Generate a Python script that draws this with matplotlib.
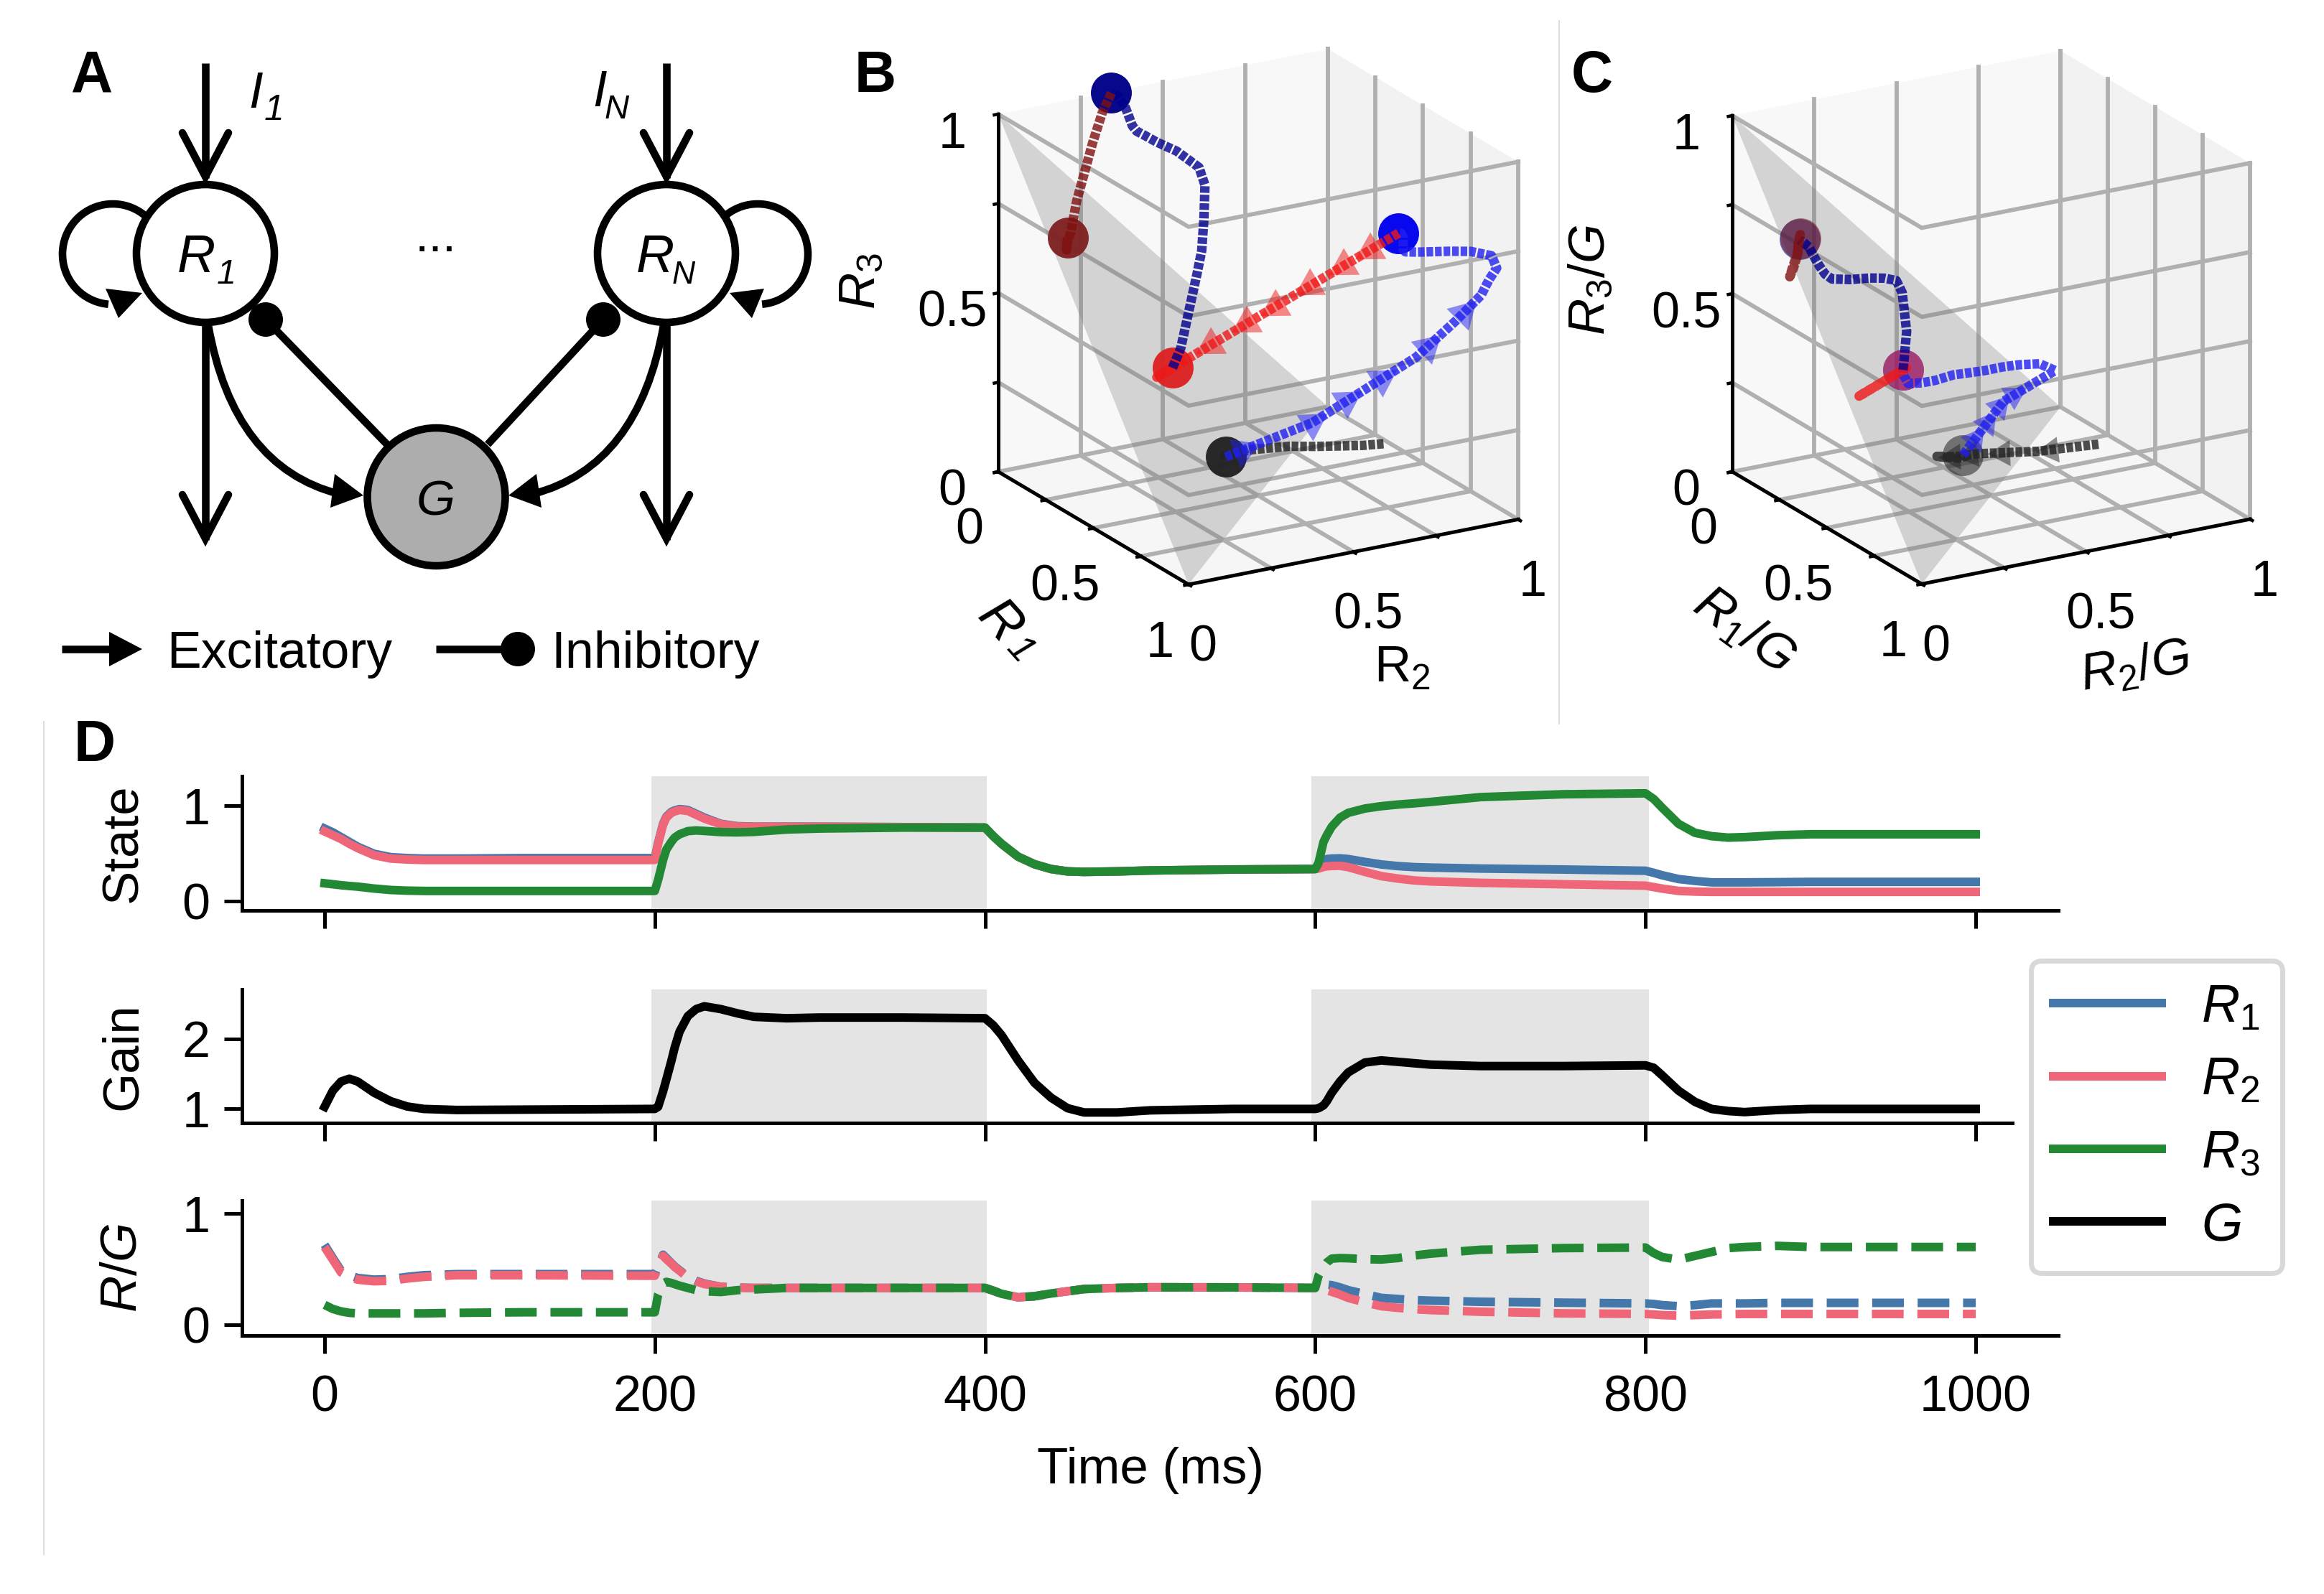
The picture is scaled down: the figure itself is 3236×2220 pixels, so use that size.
import numpy as np
import matplotlib
matplotlib.use("Agg")
import matplotlib.pyplot as plt
from matplotlib.patches import Circle, Polygon, PathPatch
from matplotlib.path import Path
from mpl_toolkits.mplot3d import proj3d
from mpl_toolkits.mplot3d.art3d import Poly3DCollection

plt.rcParams.update({
    "font.family": "Liberation Sans", "mathtext.fontset": "custom",
    "mathtext.rm": "Liberation Sans", "mathtext.it": "Liberation Sans:italic",
    "mathtext.bf": "Liberation Sans:bold", "mathtext.default": "it",
    "axes.linewidth": 3.6, "font.size": 50.5,
})

W, H = 3236, 2220

# ---------------- data ----------------
t = np.array([0,5,10,15,20,30,40,50,60,80,120,200,
              202,205,207,210,212,215,220,225,230,240,250,260,280,300,350,400,
              405,410,420,430,440,450,460,480,500,550,600,
              602,605,607,610,615,620,630,640,650,660,670,700,750,800,
              805,810,820,830,840,850,860,880,900,1000], float)
R1 = np.array([.76,.72,.67,.62,.57,.495,.46,.45,.445,.445,.45,.45,
               .61,.81,.885,.935,.95,.965,.955,.915,.875,.81,.785,.78,.78,.78,.775,.77,
               .68,.60,.465,.385,.335,.31,.305,.31,.32,.33,.335,
               .37,.425,.44,.445,.447,.44,.41,.383,.366,.355,.35,.34,.33,.317,
               .295,.27,.23,.21,.195,.195,.195,.197,.2,.2])
R2 = np.array([.73,.69,.65,.60,.555,.48,.445,.435,.43,.43,.43,.43,
               .60,.80,.875,.925,.94,.955,.945,.905,.865,.805,.782,.778,.778,.778,.775,.77,
               .68,.60,.465,.385,.335,.31,.305,.31,.32,.33,.335,
               .34,.357,.363,.367,.369,.355,.305,.26,.235,.215,.205,.19,.175,.16,
               .145,.13,.105,.098,.095,.095,.095,.095,.095,.095])
R3 = np.array([.185,.175,.165,.157,.15,.13,.115,.108,.105,.105,.105,.105,
               .22,.43,.54,.62,.665,.70,.733,.74,.735,.723,.72,.725,.75,.76,.77,.77,
               .68,.60,.465,.385,.335,.31,.305,.31,.32,.33,.335,
               .40,.62,.69,.78,.875,.925,.97,.995,1.012,1.025,1.04,1.09,1.12,1.13,
               1.07,.98,.81,.715,.68,.665,.67,.69,.70,.70])
G = np.array([1.03,1.26,1.39,1.43,1.39,1.23,1.11,1.035,1.0,.985,.99,1.0,
              1.03,1.25,1.42,1.68,1.87,2.1,2.32,2.42,2.46,2.42,2.36,2.31,2.29,2.3,2.3,2.29,
              2.19,2.05,1.69,1.37,1.16,1.01,.95,.95,.98,1.0,1.0,
              1.01,1.05,1.11,1.23,1.39,1.52,1.66,1.69,1.67,1.65,1.63,1.61,1.61,1.62,
              1.585,1.48,1.26,1.1,1.0,.97,.955,.985,1.0,1.0])
RG1 = np.array([.72,.60,.485,.445,.42,.405,.41,.43,.445,.455,.455,.455,
                .53,.63,.60,.555,.525,.49,.43,.395,.37,.34,.333,.33,.33,.33,.33,.33,
                .305,.277,.245,.255,.28,.30,.32,.33,.336,.335,.33,
                .34,.35,.36,.355,.335,.31,.275,.24,.23,.22,.215,.205,.197,.19,
                .185,.175,.165,.175,.19,.19,.19,.195,.195,.195])
RG2 = np.array([.70,.585,.47,.43,.405,.39,.395,.415,.43,.445,.445,.44,
                .52,.62,.59,.55,.52,.485,.425,.39,.365,.34,.333,.33,.33,.33,.33,.33,
                .305,.277,.245,.255,.28,.30,.32,.33,.336,.335,.33,
                .335,.32,.31,.295,.27,.24,.20,.165,.15,.138,.13,.115,.10,.095,
                .09,.085,.08,.085,.09,.092,.095,.095,.095,.095])
RG3 = np.array([.177,.14,.118,.105,.10,.10,.10,.10,.10,.105,.11,.11,
                .27,.37,.385,.375,.365,.35,.33,.31,.30,.293,.31,.316,.33,.33,.33,.33,
                .305,.277,.245,.255,.28,.30,.32,.33,.336,.335,.33,
                .44,.52,.56,.595,.60,.598,.59,.587,.60,.623,.64,.675,.69,.695,
                .645,.61,.585,.62,.655,.69,.70,.71,.70,.70])
stim_windows = [(198, 401), (597.5, 802)]
xticks = [0, 200, 400, 600, 800, 1000]

seg_bounds = [(0, 200), (200, 400), (400, 600), (600, 800), (800, 1000)]
seg_colors = ["#222222", "#2020f0", "#f01818", "#000090", "#801010"]
dot_colors = ["#222222", "#0000ee", "#dd2222", "#000088", "#802222"]
arrow_times_B = [[], [200.4, 202, 203, 204, 205.6, 208], [403, 406, 410, 415, 419, 427], [], []]
arrow_times_C = [[4, 8, 12, 17], [200.6, 201.2, 201.8, 202.6], [], [], []]

C_BLUE, C_PINK, C_GREEN = "#4477AA", "#EE6677", "#228833"

fig = plt.figure(figsize=(W / 100, H / 100), dpi=100)


def px_rect(x0, x1, ytop, ybot):
    return [x0 / W, 1 - ybot / H, (x1 - x0) / W, (ybot - ytop) / H]


# ---------------- panel D ----------------
ax_s = fig.add_axes(px_rect(337, 2866, 1081, 1268))
ax_g = fig.add_axes(px_rect(337, 2866, 1378, 1564))
ax_r = fig.add_axes(px_rect(337, 2866, 1672, 1860))
LW = 8.6
ln1, = ax_s.plot(t, R1, color=C_BLUE, lw=LW, label=r"$R_1$")
ln2, = ax_s.plot(t, R2, color=C_PINK, lw=LW, label=r"$R_2$")
ln3, = ax_s.plot(t, R3, color=C_GREEN, lw=LW, label=r"$R_3$")
ln4, = ax_g.plot(t, G, color="black", lw=LW, label=r"$G$")
ax_r.plot(t, RG1, color=C_BLUE, lw=LW, ls="--")
ax_r.plot(t, RG2, color=C_PINK, lw=LW, ls="--")
ax_r.plot(t, RG3, color=C_GREEN, lw=LW, ls="--")

for ax, ylim, yt in [(ax_s, (-0.1, 1.31), [0, 1]), (ax_g, (0.8, 2.7), [1, 2]), (ax_r, (-0.1, 1.12), [0, 1])]:
    ax.set_xlim(-50, 1050)
    ax.set_ylim(*ylim)
    ax.set_yticks(yt)
    ax.set_xticks(xticks)
    for a, b in stim_windows:
        ax.axvspan(a, b, color="#e4e4e4", lw=0, zorder=0)
    ax.spines[["top", "right"]].set_visible(False)
    ax.tick_params(length=18, width=3.6, labelsize=50.5, pad=14)
    ax.tick_params(axis="x", pad=21)
    ax.patch.set_alpha(0)
ax_g.spines["bottom"].set_bounds(-50, 1022)
ax_s.tick_params(labelbottom=False)
ax_g.tick_params(labelbottom=False)
ax_r.set_xlabel("Time (ms)", fontsize=51, labelpad=25)
for ax, lab in [(ax_s, "State"), (ax_g, "Gain"), (ax_r, r"$R/G$")]:
    ax.set_ylabel(lab, fontsize=51)
    ax.yaxis.set_label_coords((205 - 337) / (2866 - 337), 0.5)

leg = fig.legend(handles=[ln1, ln2, ln3, ln4], loc="center",
                 bbox_to_anchor=(((2832 + 3174) / 2) / W, 1 - ((1339 + 1772) / 2) / H),
                 fontsize=53, handlelength=2.05, handletextpad=0.75, labelspacing=0.44,
                 borderpad=0.42, frameon=True, fancybox=True, edgecolor="#d8d8d8", framealpha=1)
leg.get_frame().set_linewidth(5)


# ---------------- panels B and C ----------------
def to_px(ax, x, y, z):
    px, py, _ = proj3d.proj_transform(np.asarray(x, float), np.asarray(y, float), np.asarray(z, float), ax.get_proj())
    pts = ax.transData.transform(np.column_stack([px, py]))
    return pts[:, 0], H - pts[:, 1]


def make_3d(origin_px):
    ax = fig.add_axes(px_rect(origin_px - 300, origin_px + 900, 0, 1200), projection="3d", proj_type="ortho")
    ax.view_init(elev=20, azim=-30)
    ax.set_box_aspect((1, 1, 1))
    ax.set_xlim(0, 1, view_margin=0)
    ax.set_ylim(0, 1, view_margin=0)
    ax.set_zlim(0, 1, view_margin=0)
    ax.patch.set_alpha(0)
    ax.computed_zorder = False
    ax.grid(False)
    for axis, c in [(ax.xaxis, "#f8f8f8"), (ax.yaxis, "#f2f2f2"), (ax.zaxis, "#f6f6f6")]:
        axis.set_pane_color(c)
        axis.pane.set_edgecolor("none")
        axis.line.set_color((0, 0, 0, 0))
        axis.set_ticks([])
    return ax


def calibrate(ax, origin_xy, right_x):
    for _ in range(4):
        fig.canvas.draw()
        x, y = to_px(ax, [0, 1], [0, 1], [0, 0])
        scale = (right_x - origin_xy[0]) / (x[1] - x[0])
        bb = ax.get_position(original=True)
        cx, cy = (bb.x0 + bb.width / 2) * W, (1 - (bb.y0 + bb.height / 2)) * H
        nx = cx + (origin_xy[0] - (cx + (x[0] - cx) * scale))
        ny = cy + (origin_xy[1] - (cy + (y[0] - cy) * scale))
        w, h = bb.width * scale, bb.height * scale
        ax.set_position([nx / W - w / 2, 1 - ny / H - h / 2, w, h])
    fig.canvas.draw()


def dress(ax):
    gc, glw = "#b0b0b0", 4.2
    lv = [0.25, 0.5, 0.75, 1.0]
    for k in lv:
        ax.plot([0, 1, 1], [0, 0, 1], [k, k, k], color=gc, lw=glw, zorder=1)
    for k in lv:
        ax.plot([0, 0], [k, k], [0, 1], color=gc, lw=glw, zorder=1)
        ax.plot([1 - k, 1 - k], [1, 1], [0, 1], color=gc, lw=glw, zorder=1)
        ax.plot([0, 1], [k, k], [0, 0], color=gc, lw=glw, zorder=1)
        ax.plot([1 - k, 1 - k], [0, 1], [0, 0], color=gc, lw=glw, zorder=1)
    ax.plot([1, 1], [1, 1], [0, 1], color=gc, lw=glw, zorder=1)
    ax.add_collection3d(Poly3DCollection([[(1, 0, 0), (0, 1, 0), (0, 0, 1)]], facecolor=(0.45, 0.45, 0.45, 0.28),
                                         edgecolor="none", zorder=2))
    ax.plot([0, 0], [0, 0], [0, 1], color="k", lw=3.6, zorder=6)
    ax.plot([0, 1], [0, 0], [0, 0], color="k", lw=3.6, zorder=6)
    ax.plot([1, 1], [0, 1], [0, 0], color="k", lw=3.6, zorder=6)
    d = 0.012
    for k in [0, .25, .5, .75, 1]:
        ax.plot([0, 0], [0, -d], [k, k], color="k", lw=3.2, zorder=6)
        ax.plot([k, k], [0, -d], [0, 0], color="k", lw=3.2, zorder=6)
        ax.plot([1, 1 + d], [k, k], [0, 0], color="k", lw=3.2, zorder=6)


def trajectories(ax, X, Y, Z, arrow_times, dot_alpha, line_lw, ms):
    for (a, b), col, dcol, arr in zip(seg_bounds, seg_colors, dot_colors, arrow_times):
        m = (t >= a) & (t <= b)
        ax.plot(X[m], Y[m], Z[m], color=col, lw=line_lw, ls=(0, (0.7, 0.2)), alpha=0.8, zorder=4)
        for at in arr:
            p0 = [np.interp(at, t, v) for v in (X, Y, Z)]
            p1 = [np.interp(at + 0.3, t, v) for v in (X, Y, Z)]
            sx, sy = to_px(ax, [p0[0], p1[0]], [p0[1], p1[1]], [p0[2], p1[2]])
            ang = np.degrees(np.arctan2(-(sy[1] - sy[0]), sx[1] - sx[0])) - 90
            ax.plot([p0[0]], [p0[1]], [p0[2]], marker=(3, 0, ang), ms=ms, mec="none", color=col, alpha=0.5, zorder=4)
        i = np.where(t == b)[0][0]
        ax.plot([X[i]], [Y[i]], [Z[i]], "o", ms=41, mec="none", color=dcol, alpha=dot_alpha, zorder=3)


ax_b = make_3d(1390)
ax_c = make_3d(2412)
calibrate(ax_b, (1390, 657), 2114)
calibrate(ax_c, (2412, 657), 3133)
dress(ax_b)
dress(ax_c)
trajectories(ax_b, R1, R2, R3, arrow_times_B, 0.97, 9.5, 36)
trajectories(ax_c, RG1, RG2, RG3, arrow_times_C, 0.55, 9.5, 30)

# ---------------- overlay in pixels: schematic, panel letters, 3D labels ----------------
ov = fig.add_axes([0, 0, 1, 1], zorder=10)
ov.set_xlim(0, W)
ov.set_ylim(H, 0)
ov.axis("off")

for x, y, s in [(99, 128, "A"), (1190, 128, "B"), (2188, 128, "C"), (103, 1060, "D")]:
    ov.text(x, y, s, fontsize=58, fontweight="bold", ha="left", va="baseline")

ov.plot([2171, 2171], [29, 1008], color="#dddddd", lw=1.4)
ov.plot([61, 61], [1005, 2165], color="#dddddd", lw=1.4)

for ax in (ax_b, ax_c):
    for v, s in zip([0, .5, 1], ["0", "0.5", "1"]):
        x, y = to_px(ax, [0], [0], [v])
        ov.text(x[0] - 64, y[0] + 29, s, ha="center", va="center", fontsize=50.5)
        x, y = to_px(ax, [v], [0], [0])
        ov.text(x[0] - 40, y[0] + 83, s, ha="center", va="center", fontsize=50.5)
        x, y = to_px(ax, [1], [v], [0])
        ov.text(x[0] + 20, y[0] + 89, s, ha="center", va="center", fontsize=50.5)

for lx, ly, s, rot, fs, style in [
    (1391, 867, "R", -48, 54, "italic"), (1420, 906, "1", -48, 38, "italic"),
    (1952, 932, r"$\mathrm{R}_2$", 0, 51, "normal"), (1200, 392, r"$R_3$", 90, 51, "normal"),
    (2427, 880, r"$R_1/G$", -36, 51, "normal"), (2974, 931, r"$R_2/G$", 10, 51, "normal"),
    (2216, 390, r"$R_3/G$", 90, 51, "normal"),
]:
    ov.text(lx, ly, s, rotation=rot, ha="center", va="center", fontsize=fs, fontstyle=style, rotation_mode="anchor")

# schematic
S_LW = 7.6
node_x = {"R1": 286, "RN": 928, "G": 607.5}
node_y = {"R1": 353, "RN": 353, "G": 692}
NODE_R = 96


def line(xs, ys):
    ov.plot(xs, ys, color="k", lw=S_LW, solid_capstyle="butt")


def vee(x, tip_y):
    ov.plot([x - 32, x, x + 32], [tip_y - 61, tip_y, tip_y - 61], color="k", lw=S_LW,
            solid_capstyle="round", solid_joinstyle="miter")


def tri(pts):
    ov.add_patch(Polygon(pts, closed=True, fc="k", ec="none", zorder=3))


for x in (node_x["R1"], node_x["RN"]):
    line([x, x], [88, 248])
    vee(x, 246)
    line([x, x], [450, 752])
    vee(x, 750)

line([539, 370], [619, 445])
line([679, 840], [619, 445])
ov.add_patch(Circle((370, 445), 24, fc="k", ec="none", zorder=3))
ov.add_patch(Circle((840, 445), 24, fc="k", ec="none", zorder=3))

for p0, p1, p2 in [((290, 453), (325, 650), (472, 688)), ((924, 453), (889, 650), (742, 688))]:
    ov.add_patch(PathPatch(Path([p0, p1, p2], [Path.MOVETO, Path.CURVE3, Path.CURVE3]), fc="none", ec="k", lw=S_LW))
tri([(506, 690), (466, 660), (460, 707)])
tri([(708, 690), (747, 660), (754, 707)])

th = np.radians(np.linspace(-50, -265, 60))
line(157 + 70 * np.cos(th), 354 + 70 * np.sin(th))
line(1055 - 70 * np.cos(th), 354 + 70 * np.sin(th))
tri([(198, 408), (147, 402), (165, 443)])
tri([(1016, 408), (1064, 402), (1047, 443)])

ov.add_patch(Circle((node_x["R1"], node_y["R1"]), NODE_R, fc="white", ec="k", lw=S_LW, zorder=2))
ov.add_patch(Circle((node_x["RN"], node_y["RN"]), NODE_R, fc="white", ec="k", lw=S_LW, zorder=2))
ov.add_patch(Circle((node_x["G"], node_y["G"]), NODE_R, fc="#adadad", ec="k", lw=S_LW, zorder=2))

for x, y, s, fs in [(247, 379, "R", 53), (302, 395, "1", 35), (886, 379, "R", 53), (936, 395, "N", 32),
                    (346, 150, "I", 51), (368, 167, "1", 36), (825, 148, "I", 51), (842, 165, "N", 34)]:
    ov.text(x, y, s, fontsize=fs, fontstyle="italic", ha="left", va="baseline", zorder=5)
ov.text(607, 717, "G", fontsize=50, fontstyle="italic", ha="center", va="baseline", zorder=5)
ov.text(607, 350, "...", fontsize=50, ha="center", va="baseline")

line([86, 155], [904, 904])
tri([(198, 904), (152, 880), (152, 928)])
ov.text(232, 930, "Excitatory", fontsize=51.5, ha="left", va="baseline")
line([607, 700], [904, 904])
ov.add_patch(Circle((721, 904), 24, fc="k", ec="none", zorder=3))
ov.text(767, 930, "Inhibitory", fontsize=51.5, ha="left", va="baseline")

fig.savefig("out.png", dpi=100)
